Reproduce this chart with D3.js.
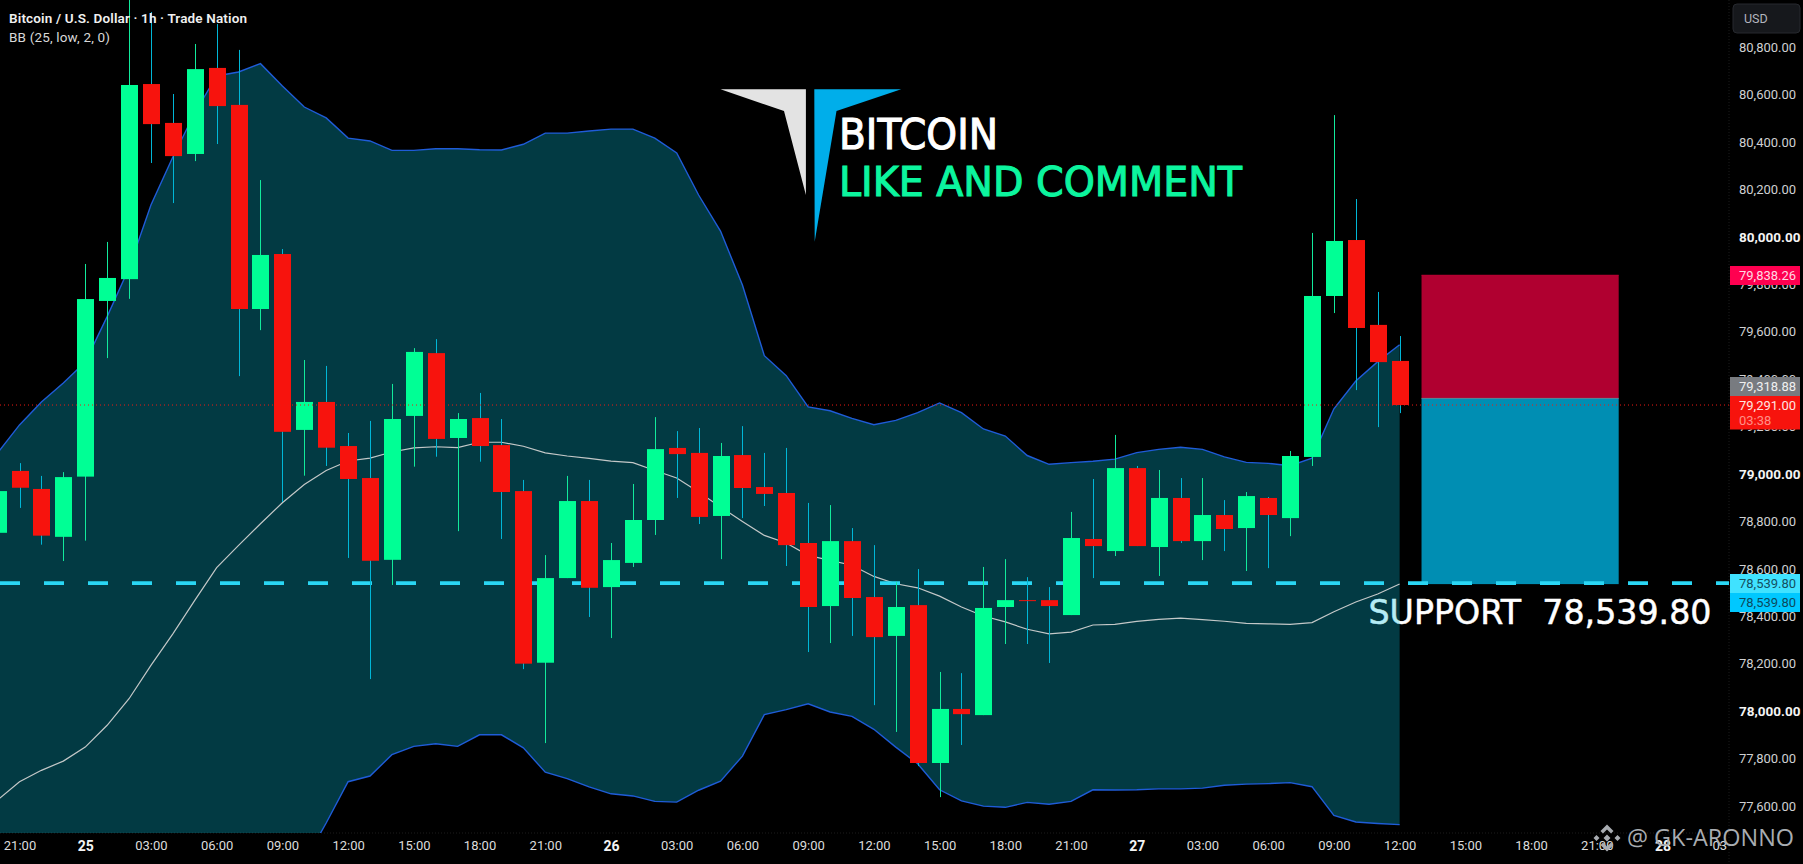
<!DOCTYPE html>
<html>
<head>
<meta charset="utf-8">
<title>Bitcoin / U.S. Dollar</title>
<script src="https://cdn.jsdelivr.net/npm/d3@7"></script>
<style>
html, body { margin: 0; padding: 0; background: #000; overflow: hidden; }
svg { display: block; }
text { white-space: pre; }
</style>
</head>
<body>
<div id="chart"></div>
<script>
// hours are counted from 24th 21:00, first candle is the one before that
var firstHour = -1;

var opens = [78752,79013,78937,78735,78989,79730,79822,80645,80481,80350,80713,80557,79696,79928,79186,79304,79118,78983,78638,79245,79510,79152,79236,79122,78928,78204,78561,78886,78523,78625,78806,79110,79089,78823,79080,78945,78920,78709,78443,78717,78481,78317,78447,77781,78009,77983,78439,78468,78468,78405,78726,78675,79025,78692,78899,78717,78827,78772,78899,78814,79072,79751,79987,79629,79477];
var closes = [78928,78942,78740,78987,79738,79827,80641,80476,80341,80708,80552,79696,79924,79178,79304,79111,78979,78634,79232,79515,79148,79232,79118,78924,78200,78561,78886,78520,78637,78806,79105,79084,78819,79076,78941,78916,78700,78439,78717,78477,78312,78439,77781,78009,77987,78435,78468,78464,78443,78730,78696,79025,78696,78899,78717,78827,78768,78907,78827,79076,79751,79983,79616,79472,79291];
var highs = [78960,79046,78992,79008,79886,79979,81050,80949,80603,80814,80898,80789,80240,79949,79481,79456,79173,79224,79380,79531,79569,79257,79342,79232,78975,78658,78992,78975,78709,78958,79240,79181,79194,79131,79202,79089,79110,78878,78869,78772,78700,78544,78599,78165,78160,78608,78641,78565,78523,78840,78979,79165,79034,79017,78983,78983,78890,78924,78903,79097,80017,80514,80160,79768,79582];
var lows = [78700,78857,78702,78633,78719,79489,79739,80312,80143,80320,80392,79413,79607,78882,78993,79034,78646,78135,78532,79031,79073,78759,79052,78726,78177,77865,78561,78397,78308,78608,78743,78899,78789,78641,78814,78865,78612,78249,78287,78317,78025,77912,77768,77637,77857,77983,78283,78283,78203,78405,78561,78654,78696,78570,78709,78637,78675,78591,78603,78738,79034,79679,79354,79198,79257];

var bbUpper = [79089,79207,79304,79384,79472,79664,79869,80135,80337,80523,80679,80696,80731,80637,80548,80502,80417,80405,80365,80365,80372,80372,80368,80367,80391,80438,80438,80447,80455,80455,80417,80354,80177,80025,79797,79499,79415,79283,79267,79235,79208,79226,79259,79300,79259,79190,79160,79078,79041,79048,79054,79063,79090,79104,79113,79104,79072,79049,79045,79035,79067,79275,79392,79474,79545];
var bbBasis = [77625,77702,77750,77789,77848,77940,78052,78193,78326,78467,78605,78699,78790,78879,78956,79015,79055,79067,79093,79110,79115,79111,79134,79134,79117,79089,79076,79066,79054,79048,79015,78983,78924,78861,78800,78741,78709,78657,78636,78615,78568,78537,78520,78485,78439,78401,78376,78345,78326,78333,78363,78366,78378,78387,78392,78386,78379,78370,78368,78366,78373,78419,78460,78494,78536];
var bbLower = [76161,76197,76196,76194,76224,76216,76235,76251,76315,76411,76531,76702,76849,77121,77364,77528,77702,77726,77816,77851,77862,77851,77900,77900,77845,77742,77715,77680,77651,77642,77619,77616,77666,77704,77810,77985,78006,78031,77996,77978,77923,77848,77778,77668,77621,77599,77594,77615,77607,77619,77668,77667,77668,77672,77672,77675,77687,77692,77694,77698,77681,77560,77532,77526,77521];

var priceTicks = [80800,80600,80400,80200,80000,79800,79600,79400,79200,79000,78800,78600,78400,78200,78000,77800,77600];
var boldPrices = [80000,79000,78000];

var timeTicks = [0,3,6,9,12,15,18,21,24,27,30,33,36,39,42,45,48,51,54,57,60,63,66,69,72,75,78];
var timeLabels = ["21:00","25","03:00","06:00","09:00","12:00","15:00","18:00","21:00","26","03:00","06:00","09:00","12:00","15:00","18:00","21:00","27","03:00","06:00","09:00","12:00","15:00","18:00","21:00","28","03:00"];
var boldTimes = ["25","26","27","28"];

var lastPrice = 79291.00;
var countdown = "03:38";
var supportPrice = 78539.80;
var stopPrice = 79838.26;
var entryPrice = 79318.88;
var boxStart = 64, boxEnd = 73;

var svgwidth = 1803;
var svgheight = 864;
var plotRight = 1729;
var plotBottom = 833;

var green = "#00ff95";
var red = "#f7130d";
var font = "Roboto, sans-serif";

var x = d3.scaleLinear().domain([0, 75]).range([19.5, 1662.5]);
var y = d3.scaleLinear().domain([80800, 77600]).range([47.3, 805.9]);

var hours = opens.map((d, i) => firstHour + i);
var candles = hours.map((h, i) => ({h: h, o: opens[i], c: closes[i], hi: highs[i], lo: lows[i]}));
var band = hours.map((h, i) => ({h: h, up: bbUpper[i], mid: bbBasis[i], low: bbLower[i]}));

var svg = d3.select("#chart").append("svg").attr("width", svgwidth).attr("height", svgheight);
svg.append("rect").attr("width", svgwidth).attr("height", svgheight).attr("fill", "#000");

var defs = svg.append("defs");
defs.append("clipPath").attr("id", "plot").append("rect").attr("width", plotRight).attr("height", plotBottom);
defs.append("clipPath").attr("id", "timeclip").append("rect").attr("width", 1727).attr("height", svgheight);

// panel edges
svg.append("line").attr("x1", plotRight).attr("x2", plotRight).attr("y1", 0).attr("y2", svgheight)
    .attr("stroke", "#1c1c1c").attr("stroke-dasharray", "1,2");
svg.append("line").attr("x1", 0).attr("x2", plotRight).attr("y1", plotBottom).attr("y2", plotBottom)
    .attr("stroke", "#1c1c1c").attr("stroke-dasharray", "1,2");

// this text sits under the band fill, that is why its first letters look tinted
svg.append("text").attr("x", 1368.5).attr("y", 623.5)
    .attr("font-family", "'DejaVu Sans', sans-serif").attr("font-size", 33)
    .attr("textLength", 343).attr("lengthAdjust", "spacingAndGlyphs")
    .attr("fill", "#fff").attr("stroke", "#fff").attr("stroke-width", 0.5)
    .text("SUPPORT  " + d3.format(",.2f")(supportPrice));

var plot = svg.append("g").attr("clip-path", "url(#plot)");

var area = d3.area().x(d => x(d.h)).y0(d => y(d.low)).y1(d => y(d.up));
plot.append("path").datum(band).attr("d", area).attr("fill", "rgb(7,193,223)").attr("fill-opacity", 0.3);

var lineUp = d3.line().x(d => x(d.h)).y(d => y(d.up));
var lineMid = d3.line().x(d => x(d.h)).y(d => y(d.mid));
var lineLow = d3.line().x(d => x(d.h)).y(d => y(d.low));
plot.append("path").datum(band).attr("d", lineUp).attr("fill", "none").attr("stroke", "#1f5cd8").attr("stroke-width", 1.4);
plot.append("path").datum(band).attr("d", lineLow).attr("fill", "none").attr("stroke", "#1f5cd8").attr("stroke-width", 1.4);
plot.append("path").datum(band).attr("d", lineMid).attr("fill", "none").attr("stroke", "#c4c8c8").attr("stroke-width", 1.2);

// short position box
plot.append("rect").attr("x", x(boxStart)).attr("width", x(boxEnd) - x(boxStart))
    .attr("y", y(stopPrice)).attr("height", y(entryPrice) - y(stopPrice)).attr("fill", "#b00030");
plot.append("rect").attr("x", x(boxStart)).attr("width", x(boxEnd) - x(boxStart))
    .attr("y", y(entryPrice)).attr("height", y(supportPrice) - y(entryPrice) + 1).attr("fill", "#008eb3");
plot.append("line").attr("x1", x(boxStart)).attr("x2", x(boxEnd)).attr("y1", y(entryPrice)).attr("y2", y(entryPrice))
    .attr("stroke", "#5b8a9a").attr("stroke-width", 1);
plot.append("line").attr("x1", x(boxStart)).attr("x2", x(boxEnd)).attr("y1", y(stopPrice)).attr("y2", y(stopPrice))
    .attr("stroke", "#c40036").attr("stroke-width", 1);

// support level
plot.append("line").attr("x1", 0).attr("x2", plotRight).attr("y1", y(supportPrice)).attr("y2", y(supportPrice))
    .attr("stroke", "#2ad6f4").attr("stroke-width", 3.6).attr("stroke-dasharray", "20,24");

var elem = plot.selectAll("g.candle").data(candles).enter().append("g").attr("class", "candle");
elem.append("rect")
    .attr("x", d => Math.round(x(d.h)))
    .attr("width", 1)
    .attr("y", d => y(d.hi))
    .attr("height", d => y(d.lo) - y(d.hi))
    .attr("fill", d => d.c >= d.o ? "#12ea9c" : "#00b6d6");
elem.append("rect")
    .attr("x", d => Math.round(x(d.h)) - 8)
    .attr("width", 17)
    .attr("y", d => y(Math.max(d.o, d.c)))
    .attr("height", d => Math.max(1, Math.abs(y(d.o) - y(d.c))))
    .attr("fill", d => d.c >= d.o ? green : red);

// last price line goes over the candles
plot.append("line").attr("x1", 0).attr("x2", plotRight).attr("y1", y(lastPrice)).attr("y2", y(lastPrice))
    .attr("stroke", "#ee1a14").attr("stroke-width", 1).attr("stroke-dasharray", "1,3");

// logo
svg.append("polygon").attr("points", "720.5,89.3 805.9,89.3 805.9,195 784,111").attr("fill", "#e3e3e3");
svg.append("polygon").attr("points", "814.3,89.3 901.2,89.3 836.5,111 814.7,241.7").attr("fill", "#00aeea");
svg.append("text").attr("x", 839).attr("y", 149)
    .attr("font-family", "'DejaVu Sans', sans-serif").attr("font-size", 42)
    .attr("textLength", 159).attr("lengthAdjust", "spacingAndGlyphs")
    .attr("fill", "#fff").attr("stroke", "#fff").attr("stroke-width", 1.1).text("BITCOIN");
svg.append("text").attr("x", 839).attr("y", 195.5)
    .attr("font-family", "'DejaVu Sans', sans-serif").attr("font-size", 41)
    .attr("textLength", 403).attr("lengthAdjust", "spacingAndGlyphs")
    .attr("fill", "#0cf59e").attr("stroke", "#0cf59e").attr("stroke-width", 1.1).text("LIKE AND COMMENT");

// header
svg.append("text").attr("x", 9).attr("y", 23).attr("font-family", font).attr("font-size", 13.5).attr("font-weight", 600)
    .attr("textLength", 238).attr("fill", "#f0f0f0").text("Bitcoin / U.S. Dollar · 1h · Trade Nation");
svg.append("text").attr("x", 9).attr("y", 42).attr("font-family", font).attr("font-size", 13.5)
    .attr("textLength", 101).attr("fill", "#d8d8d8").text("BB (25, low, 2, 0)");

// price axis
var rightAxis = d3.axisRight(y).tickValues(priceTicks).tickSize(0).tickPadding(0).tickFormat(d3.format(",.2f"));
var yAxisGroup = svg.append("g").attr("transform", "translate(1739,0)").call(rightAxis);
yAxisGroup.select(".domain").remove();
yAxisGroup.selectAll("text")
    .attr("font-family", font)
    .attr("font-size", d => boldPrices.includes(d) ? 13.5 : 13)
    .attr("font-weight", d => boldPrices.includes(d) ? 700 : 400)
    .attr("fill", d => boldPrices.includes(d) ? "#f4f4f4" : "#cfd0d2");

// time axis
var timeLabel = d3.scaleOrdinal().domain(timeTicks).range(timeLabels);
var bottomAxis = d3.axisBottom(x).tickValues(timeTicks).tickSize(0).tickPadding(0).tickFormat(d => timeLabel(d));
var xAxisGroup = svg.append("g").attr("clip-path", "url(#timeclip)").append("g")
    .attr("transform", "translate(0,841)").call(bottomAxis);
xAxisGroup.select(".domain").remove();
xAxisGroup.selectAll("text")
    .attr("font-family", font)
    .attr("font-size", d => boldTimes.includes(timeLabel(d)) ? 14 : 13)
    .attr("font-weight", d => boldTimes.includes(timeLabel(d)) ? 700 : 400)
    .attr("fill", d => boldTimes.includes(timeLabel(d)) ? "#f4f4f4" : "#dcdcdc");

// price tags on the axis
var tags = [
    {value: stopPrice, top: 266, bottom: 285, fill: "#ff0050", color: "#ffd9e3"},
    {value: entryPrice, top: 377, bottom: 396, fill: "#787b80", color: "#f0f0f0"},
    {value: lastPrice, top: 396, bottom: 429.5, fill: red, color: "#ffe5e0", sub: countdown},
    {value: supportPrice, top: 574, bottom: 593, fill: "#40e2ff", color: "#14505f"},
    {value: supportPrice, top: 593, bottom: 612, fill: "#00c8ff", color: "#0d4a5c"}
];
var tag = svg.selectAll("g.tag").data(tags).enter().append("g").attr("class", "tag");
tag.append("rect").attr("x", 1730).attr("width", 70).attr("y", d => d.top).attr("height", d => d.bottom - d.top).attr("fill", d => d.fill);
tag.append("text").attr("x", 1739).attr("y", d => d.top + 13.7)
    .attr("font-family", font).attr("font-size", 13).attr("fill", d => d.color)
    .text(d => d3.format(",.2f")(d.value));
tag.filter(d => d.sub).append("text").attr("x", 1739).attr("y", d => d.top + 29)
    .attr("font-family", font).attr("font-size", 13).attr("fill", "#ff8f88")
    .text(d => d.sub);

// currency button
svg.append("rect").attr("x", 1733).attr("y", 4).attr("width", 67).attr("height", 29).attr("rx", 4)
    .attr("fill", "#16181c").attr("stroke", "#26292e");
svg.append("text").attr("x", 1744).attr("y", 23).attr("font-family", font).attr("font-size", 12.5)
    .attr("fill", "#b2b5be").text("USD");

// watermark
var mark = svg.append("g").attr("transform", "translate(1607,838)").attr("fill", "#a8acb1");
mark.append("path").attr("d", "M0,-13.5 L6.5,-7 L4,-4.5 L0,-8.5 L-4,-4.5 L-6.5,-7 Z M0,13.5 L6.5,7 L4,4.5 L0,8.5 L-4,4.5 L-6.5,7 Z M0,-3.5 L3.5,0 L0,3.5 L-3.5,0 Z M-13.5,0 L-10.5,-3 L-7.5,0 L-10.5,3 Z M13.5,0 L10.5,-3 L7.5,0 L10.5,3 Z");
svg.append("text").attr("x", 1627).attr("y", 846).attr("font-family", "'Open Sans', sans-serif").attr("font-size", 23.5)
    .attr("textLength", 167).attr("lengthAdjust", "spacingAndGlyphs")
    .attr("fill", "#a8acb1").text("@ GK-ARONNO");
</script>
</body>
</html>
